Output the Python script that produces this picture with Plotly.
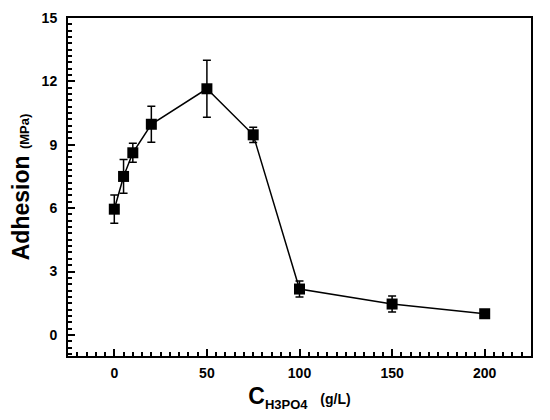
import plotly.graph_objects as go

# H3PO4 concentration (g/L) vs adhesion (MPa)
conc = [0, 5, 10, 20, 50, 75, 100, 150, 200]
adhesion = [5.95, 7.5, 8.62, 9.97, 11.65, 9.47, 2.17, 1.46, 1.0]
adhesion_err = [0.67, 0.8, 0.45, 0.85, 1.35, 0.36, 0.38, 0.38, 0.1]

x_ticks = [0, 50, 100, 150, 200]
y_ticks = [0, 3, 6, 9, 12, 15]

fig = go.Figure()
fig.add_trace(go.Scatter(
    x=conc, y=adhesion,
    mode='lines+markers',
    line=dict(color='black', width=1.5),
    marker=dict(symbol='square', size=11, color='black'),
    error_y=dict(type='data', array=adhesion_err, color='black',
                 thickness=1.5, width=4),
    showlegend=False,
))

font = dict(family='Liberation Sans, Arial, sans-serif', color='black')

fig.update_xaxes(
    range=[-25, 225], tickvals=x_ticks,
    ticktext=['<b>%d</b>' % v for v in x_ticks],
    ticks='inside', ticklen=7, tickwidth=2, tickcolor='black',
    minor=dict(dtick=5, tick0=0, ticks='inside', ticklen=4, tickwidth=1.5, tickcolor='black'),
    showline=True, linewidth=2, linecolor='black', mirror=True,
    showgrid=False, zeroline=False, automargin=False,
    tickfont=dict(size=14, **font), ticklabelstandoff=3,
    title=dict(
        text="<b>C<sub><span style='font-size:13px'>H3PO4</span></sub>"
             "  <span style='font-size:14px'>(g/L)</span></b>",
        font=dict(size=23, **font), standoff=8),
)
fig.update_yaxes(
    range=[-1, 15], tickvals=y_ticks,
    ticktext=['<b>%d</b>' % v for v in y_ticks],
    ticks='inside', ticklen=7, tickwidth=2, tickcolor='black',
    minor=dict(dtick=0.3, tick0=0, ticks='inside', ticklen=4, tickwidth=1.5, tickcolor='black'),
    showline=True, linewidth=2, linecolor='black', mirror=True,
    showgrid=False, zeroline=False, automargin=False,
    tickfont=dict(size=14, **font), ticklabelstandoff=6,
    title=dict(
        text="<b>Adhesion <span style='font-size:13px'>(MPa)</span></b>",
        font=dict(size=23, **font), standoff=9),
)
# page body adds an 8px offset, so the figure is a bit smaller than the window
fig.update_layout(
    width=542, height=412,
    margin=dict(l=60, r=19, t=10, b=64),
    plot_bgcolor='white', paper_bgcolor='white',
)
fig.write_html("out.html")
